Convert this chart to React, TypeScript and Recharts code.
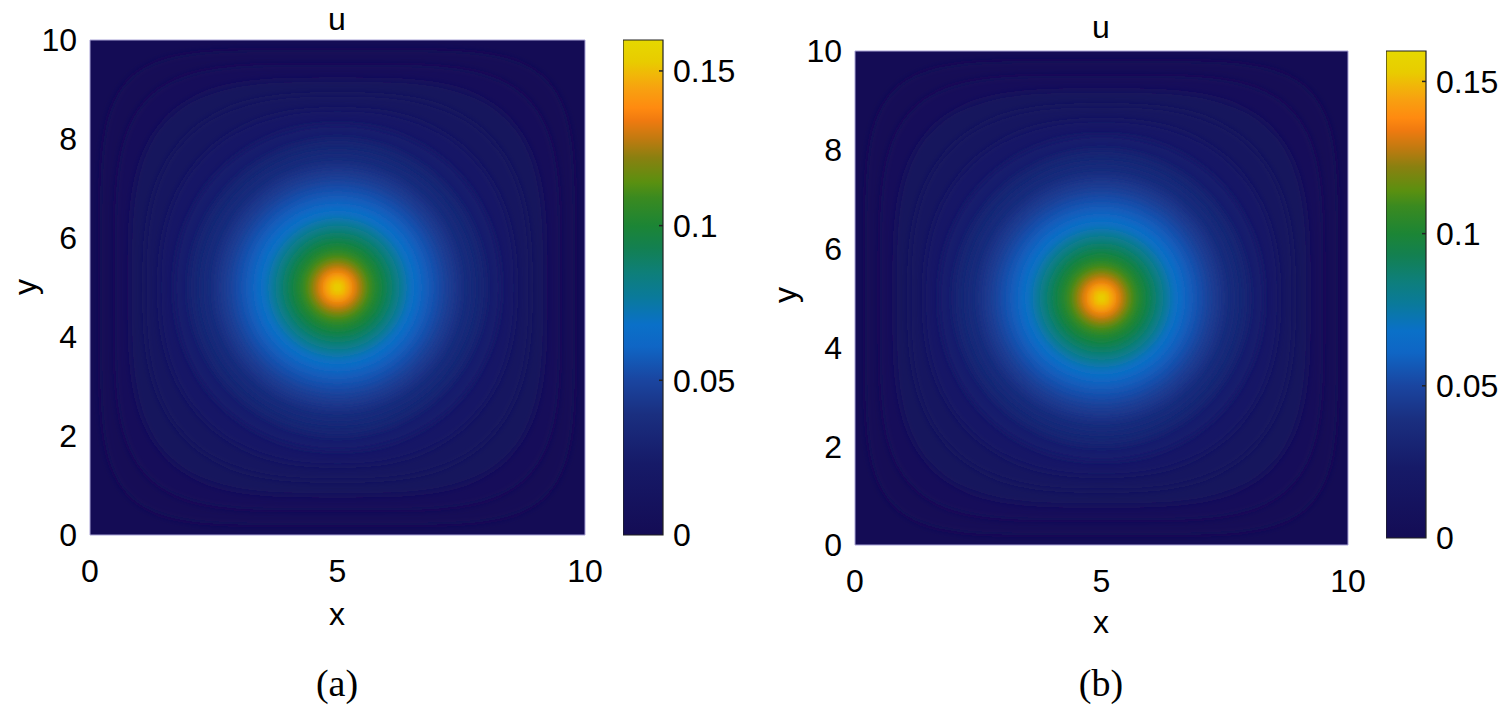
import { ScatterChart, Scatter, XAxis, YAxis, ReferenceArea, ReferenceLine } from 'recharts';

const X_TICKS = [0, 5, 10];
const Y_TICKS = [0, 2, 4, 6, 8, 10];
const CBAR_TICKS = [0, 0.05, 0.1, 0.15];
const U_MAX = 0.16;
const PEAK = [{ x: 5, y: 5 }];

// colormap (value -> colour)
const CMAP_VALUES = [0, 0.023, 0.039, 0.05, 0.061, 0.068, 0.077, 0.085, 0.093, 0.1, 0.109, 0.114, 0.122, 0.128, 0.134, 0.138, 0.144, 0.149, 0.153, 0.16];
const CMAP_COLORS = ['#140c55', '#161a68', '#1a2f80', '#1a45a0', '#0f66c5', '#0a70c8', '#0a7a9a', '#0e7f78', '#138050', '#1c8535', '#3a8a20', '#5a9010', '#8a8010', '#c07a10', '#f07a10', '#ff8a10', '#f8a010', '#f0b808', '#e8cc00', '#e6d800'];

// contour half-widths (x units from the centre, along y = 5) and the value of u there
const RADII_A = [5, 4.8, 4.5, 4.2, 3.9, 3.6, 3.3, 3.0, 2.75, 2.5, 2.3, 2.1, 1.9, 1.7, 1.55, 1.4, 1.25, 1.1, 0.95, 0.8, 0.7, 0.6, 0.5, 0.4, 0.3, 0.2, 0.1, 0.05];
const LEVELS_A = [0, 0.002, 0.006, 0.01, 0.015, 0.02, 0.026, 0.031, 0.036, 0.042, 0.047, 0.053, 0.058, 0.064, 0.069, 0.076, 0.083, 0.09, 0.097, 0.103, 0.109, 0.117, 0.125, 0.133, 0.142, 0.15, 0.156, 0.159];
const RADII_B = [5, 4.8, 4.5, 4.2, 3.9, 3.6, 3.3, 3.0, 2.75, 2.5, 2.3, 2.1, 1.9, 1.7, 1.55, 1.4, 1.25, 1.1, 0.95, 0.8, 0.7, 0.6, 0.5, 0.4, 0.3, 0.2, 0.1, 0.05];
const LEVELS_B = [0, 0.002, 0.006, 0.01, 0.015, 0.02, 0.026, 0.031, 0.036, 0.042, 0.047, 0.053, 0.058, 0.064, 0.069, 0.076, 0.083, 0.09, 0.097, 0.103, 0.109, 0.117, 0.125, 0.133, 0.142, 0.15, 0.156, 0.159];

const SANS = '"Liberation Sans", Arial, sans-serif';
const SERIF = '"Liberation Serif", "Times New Roman", serif';
const FS = 32;

function hex(c: string) {
  return [1, 3, 5].map(i => parseInt(c.slice(i, i + 2), 16));
}

function cmap(v: number): string {
  if (v <= CMAP_VALUES[0]) return CMAP_COLORS[0];
  for (let i = 1; i < CMAP_VALUES.length; i++) {
    if (v <= CMAP_VALUES[i]) {
      const t = (v - CMAP_VALUES[i - 1]) / (CMAP_VALUES[i] - CMAP_VALUES[i - 1]);
      const a = hex(CMAP_COLORS[i - 1]), b = hex(CMAP_COLORS[i]);
      const m = a.map((ch, k) => Math.round(ch + (b[k] - ch) * t));
      return `rgb(${m[0]},${m[1]},${m[2]})`;
    }
  }
  return CMAP_COLORS[CMAP_COLORS.length - 1];
}

// contours are round near the peak and get squarish close to the walls
function squareness(d: number) {
  if (d <= 3) return 2;
  return 2 + Math.pow((d - 3) / 2, 2) * 4;
}

function blob(expo: number, color: string, filterId: string) {
  return (props: any) => {
    const { x, y, width, height } = props;
    const cx = x + width / 2, cy = y + height / 2;
    const pts: string[] = [];
    const n = 180;
    for (let i = 0; i < n; i++) {
      const t = (i / n) * Math.PI * 2;
      const c = Math.cos(t), s = Math.sin(t);
      const px = cx + (width / 2) * Math.sign(c) * Math.pow(Math.abs(c), 2 / expo);
      const py = cy + (height / 2) * Math.sign(s) * Math.pow(Math.abs(s), 2 / expo);
      pts.push(`${px.toFixed(2)},${py.toFixed(2)}`);
    }
    return <path d={`M${pts.join('L')}Z`} fill={color} filter={`url(#${filterId})`} />;
  };
}

const tickStyle = { fontFamily: SANS, fontSize: FS, fill: '#000' };

function HeatPanel({ id, radii, levels, left, top, plotW, plotH }: {
  id: string; radii: number[]; levels: number[]; left: number; top: number; plotW: number; plotH: number;
}) {
  const fid = `blur-${id}`;
  return (
    <div style={{ position: 'absolute', left, top: 0 }}>
      <ScatterChart width={20 + 70 + plotW + 20} height={top + plotH + 70}
        margin={{ top, right: 20, bottom: 0, left: 20 }}>
        <defs>
          <filter id={fid} x="-20%" y="-20%" width="140%" height="140%">
            <feGaussianBlur stdDeviation="3.5" />
          </filter>
        </defs>
        <XAxis type="number" dataKey="x" domain={[0, 10]} ticks={X_TICKS} height={70}
          axisLine={false} tickLine={false} tickSize={0} tickMargin={24} tick={tickStyle} interval={0} />
        <YAxis type="number" dataKey="y" domain={[0, 10]} ticks={Y_TICKS} width={70}
          axisLine={false} tickLine={false} tickSize={0} tickMargin={13} tick={tickStyle} interval={0} />
        <ReferenceArea x1={0} x2={10} y1={0} y2={10} fill={cmap(levels[0])} fillOpacity={1}
          stroke="#a9a3d6" strokeWidth={1} strokeOpacity={1} />
        {radii.slice(1).map((d, i) => (
          <ReferenceArea key={d} x1={5 - d} x2={5 + d} y1={5 - d} y2={5 + d}
            shape={blob(squareness(d), cmap(levels[i + 1]), fid)} />
        ))}
        <Scatter data={PEAK} fill="none" isAnimationActive={false} shape={() => <g />} />
      </ScatterChart>
    </div>
  );
}

function ColorBar({ id, left, top, barH }: { id: string; left: number; top: number; barH: number }) {
  const gid = `cbar-${id}`;
  return (
    <div style={{ position: 'absolute', left, top: 0 }}>
      <ScatterChart width={40 + 80} height={top + barH + 25} margin={{ top, right: 0, bottom: 25, left: 0 }}>
        <defs>
          <linearGradient id={gid} x1="0" y1="1" x2="0" y2="0">
            {CMAP_VALUES.map((v, i) => (
              <stop key={v} offset={v / U_MAX} stopColor={CMAP_COLORS[i]} />
            ))}
          </linearGradient>
        </defs>
        <XAxis type="number" dataKey="x" domain={[0, 1]} hide />
        <YAxis type="number" dataKey="y" orientation="right" domain={[0, U_MAX]} ticks={CBAR_TICKS} width={80}
          axisLine={false} tickLine={false} tickSize={0} tickMargin={10} tick={tickStyle} interval={0}
          tickFormatter={(v: number) => String(v)} />
        <ReferenceArea x1={0} x2={1} y1={0} y2={U_MAX} fill={`url(#${gid})`} fillOpacity={1}
          stroke="#222" strokeWidth={1.2} strokeOpacity={1} />
        {CBAR_TICKS.slice(1).map(t => (
          <ReferenceLine key={t} segment={[{ x: 0.9, y: t }, { x: 1, y: t }]} stroke="#222" strokeWidth={1.5} />
        ))}
        <Scatter data={[{ x: 0.5, y: 0 }]} fill="none" isAnimationActive={false} shape={() => <g />} />
      </ScatterChart>
    </div>
  );
}

function Label({ text, x, y, font = SANS, size = FS, rotate = 0 }: {
  text: string; x: number; y: number; font?: string; size?: number; rotate?: number;
}) {
  return (
    <div style={{
      position: 'absolute', left: x, top: y, transform: `translate(-50%, -50%) rotate(${rotate}deg)`,
      fontFamily: font, fontSize: size, lineHeight: 1.2, whiteSpace: 'nowrap', color: '#000',
    }}>{text}</div>
  );
}

export default function App() {
  return (
    <div style={{ position: 'absolute', left: 0, top: 0, width: 1500, height: 713, background: '#fff', overflow: 'hidden' }}>
      <HeatPanel id="a" radii={RADII_A} levels={LEVELS_A} left={0} top={40} plotW={495} plotH={495} />
      <ColorBar id="a" left={623} top={40} barH={495} />
      <HeatPanel id="b" radii={RADII_B} levels={LEVELS_B} left={765} top={51} plotW={493} plotH={494} />
      <ColorBar id="b" left={1386} top={51} barH={487} />

      <Label text="u" x={337} y={19} />
      <Label text="x" x={337} y={614} />
      <Label text="y" x={25} y={287} rotate={-90} />
      <Label text="(a)" x={337} y={684} font={SERIF} size={38} />

      <Label text="u" x={1101} y={27} />
      <Label text="x" x={1101} y={622} />
      <Label text="y" x={785} y={295} rotate={-90} />
      <Label text="(b)" x={1101} y={684} font={SERIF} size={38} />
    </div>
  );
}
